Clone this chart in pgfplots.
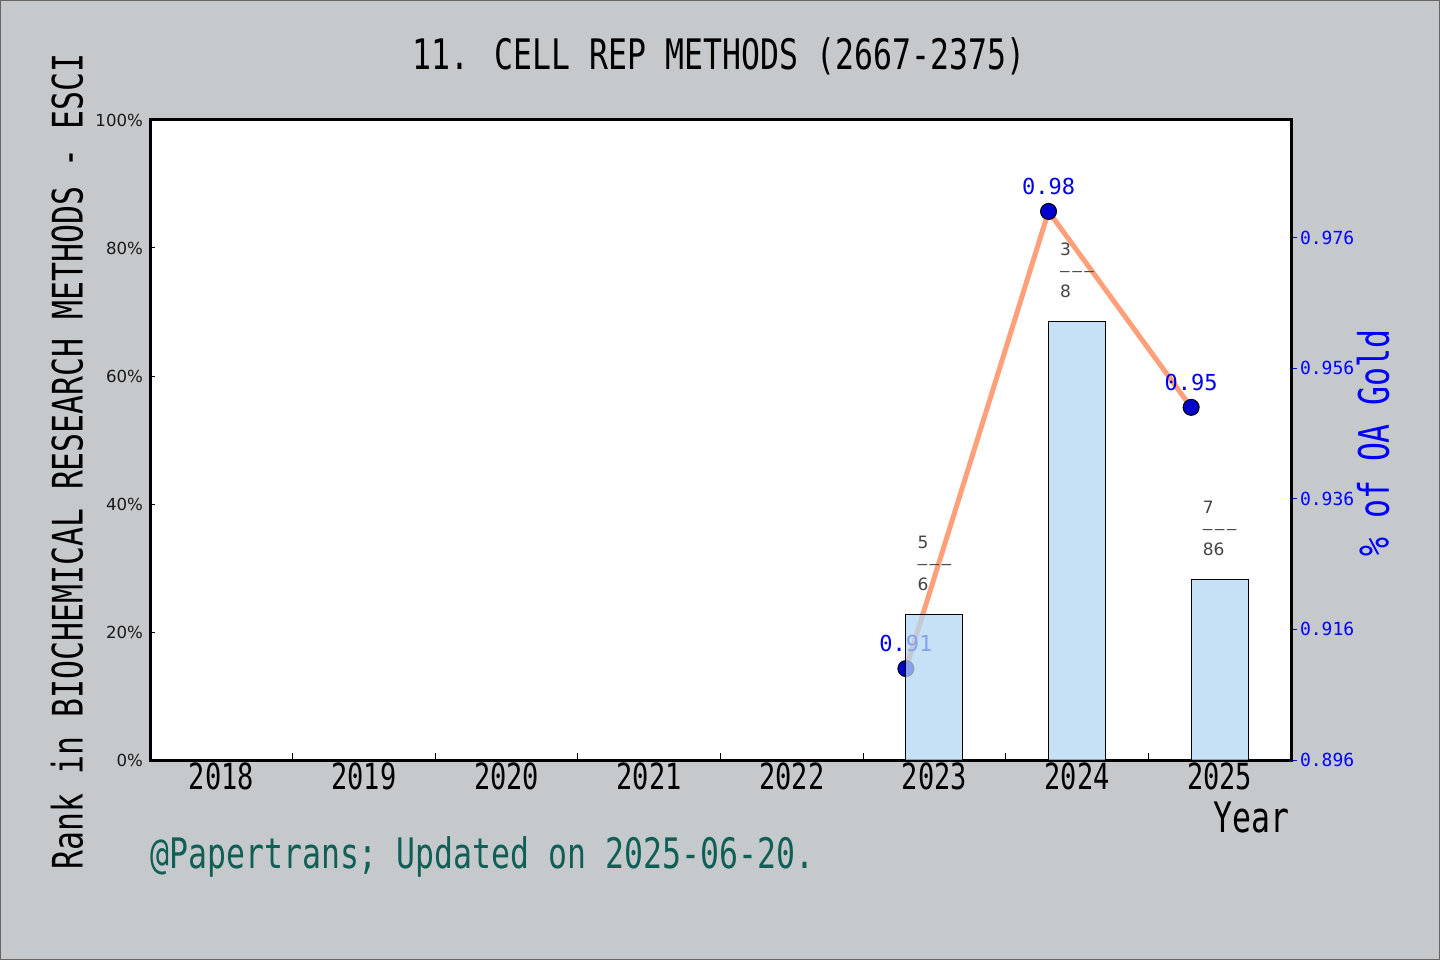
\documentclass[border=0pt]{standalone}
\usepackage{fontspec}
\usepackage{pgfplots}
\pgfplotsset{compat=1.18}
\setmainfont{DejaVu Sans}
\newfontfamily\hei{DejaVu Sans Mono}[FakeStretch=0.75]
\newfontfamily\mono{DejaVu Sans Mono}
\definecolor{bgc}{RGB}{197,201,204}
\definecolor{barc}{RGB}{179,214,243}
\definecolor{linec}{RGB}{255,160,122}
\definecolor{ptc}{RGB}{0,0,205}
\definecolor{lblblue}{RGB}{0,0,235}
\definecolor{credit}{RGB}{15,95,85}
\definecolor{barlbl}{RGB}{68,68,68}
\def\barlab#1/#2\relax{#1\\{\mono\fontsize{8}{10.5}\selectfont \char"2013\kern1.2pt\char"2013\kern1.2pt\char"2013}\\#2}
\begin{document}
\begin{tikzpicture}[x=1pt,y=1pt]
\useasboundingbox (0,0) rectangle (720,480);
\fill[bgc] (0,0) rectangle (720,480);
\draw[black!60, line width=0.5pt] (0.25,0.25) rectangle (719.75,479.75);

% right axis: % of OA Gold
\begin{axis}[
  at={(75pt,100pt)}, anchor=south west, scale only axis,
  width=570.5pt, height=320pt,
  xmin=-0.5, xmax=7.5, ymin=0.896, ymax=0.994,
  axis x line=none,
  axis y line*=right,
  axis line style={-, line width=1.5pt},
  axis background/.style={fill=white},
  ytick={0.896,0.916,0.936,0.956,0.976},
  yticklabels={0.896,0.916,0.936,0.956,0.976},
  tick align=outside,
  major tick length=3pt,
  y tick style={blue, line width=0.5pt},
  yticklabel style={font=\mono\fontsize{9}{10}\selectfont, text=blue, xshift=-2pt},
  clip=false,
]
\addplot[color=linec, line width=2.5pt, mark=*, mark size=4pt,
  mark options={fill=ptc, draw=black, line width=0.5pt},
  nodes near coords, point meta=explicit symbolic,
  every node near coord/.append style={font=\mono\fontsize{11}{12}\selectfont, text=lblblue, anchor=center, yshift=12.5pt}]
coordinates {(4.8,0.91) [0.91] (5.8,0.98) [0.98] (6.8,0.95) [0.95]};
\end{axis}

% left axis: rank bars
\begin{axis}[
  at={(75pt,100pt)}, anchor=south west, scale only axis,
  width=570.5pt, height=320pt,
  xmin=-0.5, xmax=7.5, ymin=0, ymax=100,
  axis line style={line width=1.5pt},
  xtick={0,1,2,3,4,5,6,7},
  xticklabels={2018,2019,2020,2021,2022,2023,2024,2025},
  minor xtick={0.5,1.5,2.5,3.5,4.5,5.5,6.5},
  ytick={0,20,40,60,80,100},
  yticklabels={0\%,20\%,40\%,60\%,80\%,100\%},
  xtick pos=bottom, ytick pos=left,
  tick align=inside,
  major tick length=2.5pt,
  minor tick length=3.5pt,
  major x tick style={draw=none},
  every tick/.style={line width=0.5pt, black},
  xticklabel style={font=\hei\fontsize{18}{20}\selectfont, yshift=2pt},
  yticklabel style={font=\fontsize{8.3}{9}\selectfont, text=black!90},
  clip=false,
]
\addplot[ybar, bar width=0.4, fill=barc, fill opacity=0.75, draw=black, line width=0.5pt,
  nodes near coords={\expandafter\barlab\pgfplotspointmeta\relax},
  point meta=explicit symbolic,
  every node near coord/.append style={font=\fontsize{8.5}{10.5}\selectfont, text=barlbl, align=left, anchor=center, yshift=26pt, fill opacity=1, text opacity=1}]
coordinates {(5,22.66) [5/6] (6,68.44) [3/8] (7,28.13) [7/86]};
\end{axis}

\node[font=\hei\fontsize{21}{24}\selectfont, anchor=center] at (359.5,452) {11. CELL REP METHODS (2667-2375)};
\node[font=\hei\fontsize{21}{24}\selectfont, anchor=center, rotate=90] at (33.5,249.25) {Rank in BIOCHEMICAL RESEARCH METHODS - ESCI};
\node[font=\hei\fontsize{21}{24}\selectfont, anchor=center, rotate=90, text=blue] at (686.5,258.5) {\% of OA Gold};
\node[font=\hei\fontsize{21}{24}\selectfont, anchor=east, inner sep=0pt] at (645,71.5) {Year};
\node[font=\hei\fontsize{21}{24}\selectfont, anchor=west, inner sep=0pt, text=credit] at (75,51.5) {@Papertrans; Updated on 2025-06-20.};
\end{tikzpicture}
\end{document}
